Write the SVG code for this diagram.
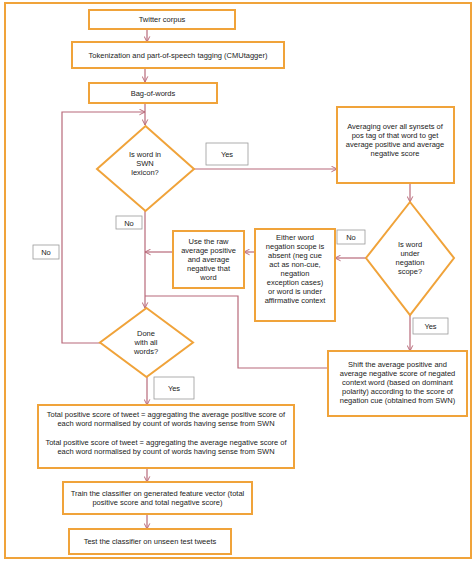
<svg xmlns="http://www.w3.org/2000/svg" width="474" height="579" viewBox="0 0 474 579">
<style>
.box{fill:#fff;stroke:#F0A33A;stroke-width:2}
.lbl{fill:#fff;stroke:#9a9a9a;stroke-width:0.8}
.c{fill:none;stroke:#B8697A;stroke-width:1.2}
text{font-family:"Liberation Sans",Arial,sans-serif;font-size:7.5px;fill:#222;text-anchor:middle}
</style>
<defs>
<marker id="a" viewBox="0 0 10 10" refX="9" refY="5" markerWidth="7" markerHeight="7" orient="auto" markerUnits="userSpaceOnUse">
<path d="M1,1 L9,5 L1,9" fill="none" stroke="#B8697A" stroke-width="1.4"/>
</marker>
</defs>
<rect x="0" y="0" width="474" height="579" fill="#fff"/>
<rect x="5" y="3" width="466" height="555" fill="none" stroke="#F0A33A" stroke-width="2"/>
<g id="connectors">
<path class="c" d="M147,29 V42" marker-end="url(#a)"/>
<path class="c" d="M145,68 V82" marker-end="url(#a)"/>
<path class="c" d="M145,103 V125" marker-end="url(#a)"/>
<path class="c" d="M100,343 H62 V112 H145" marker-end="url(#a)"/>
<path class="c" d="M194,169 H337" marker-end="url(#a)"/>
<path class="c" d="M410,183 V202" marker-end="url(#a)"/>
<path class="c" d="M366,258 H335" marker-end="url(#a)"/>
<path class="c" d="M255,252 H244" marker-end="url(#a)"/>
<path class="c" d="M173,252 H145" marker-end="url(#a)"/>
<path class="c" d="M145,211 V308" marker-end="url(#a)"/>
<path class="c" d="M328,368 H238 V296 H145"/>
<path class="c" d="M410,315 V351" marker-end="url(#a)"/>
<path class="c" d="M147,377 V405" marker-end="url(#a)"/>
<path class="c" d="M147,468 V482" marker-end="url(#a)"/>
<path class="c" d="M147,514 V529" marker-end="url(#a)"/>
</g>
<g id="lbl-yes1"><rect class="lbl" x="206" y="143" width="42" height="22"/><text x="227" y="157">Yes</text></g>
<g id="lbl-no1"><rect class="lbl" x="116" y="216" width="26" height="13"/><text x="129" y="225.5">No</text></g>
<g id="lbl-no2"><rect class="lbl" x="33" y="245" width="26" height="14"/><text x="46" y="255">No</text></g>
<g id="lbl-no3"><rect class="lbl" x="337" y="230" width="28" height="14"/><text x="351" y="240">No</text></g>
<g id="lbl-yes2"><rect class="lbl" x="413" y="318" width="35" height="16"/><text x="430.5" y="329">Yes</text></g>
<g id="lbl-yes3"><rect class="lbl" x="154" y="377" width="40" height="22"/><text x="174" y="391">Yes</text></g>
<g id="n1"><rect class="box" x="89" y="10" width="146" height="19"/><text x="162" y="22">Twitter corpus</text></g>
<g id="n2"><rect class="box" x="72" y="42" width="212" height="26"/><text x="178" y="57.5">Tokenization and part-of-speech tagging (CMUtagger)</text></g>
<g id="n3"><rect class="box" x="89" y="83" width="128" height="20"/><text x="153" y="95.5">Bag-of-words</text></g>
<g id="d1"><polygon class="box" points="145.5,126 194,169 145.5,211 97,169"/>
<text x="145" y="157">Is word in</text><text x="145" y="166">SWN</text><text x="145" y="175">lexicon?</text></g>
<g id="n4"><rect class="box" x="337" y="107" width="117" height="76"/>
<text x="395" y="129">Averaging over all synsets of</text><text x="395" y="138">pos tag of that word to get</text><text x="395" y="147">average positive and average</text><text x="395" y="156">negative score</text></g>
<g id="d2"><polygon class="box" points="410,202 454,258 410,315 366,258"/>
<text x="410" y="247">Is word</text><text x="410" y="256">under</text><text x="410" y="265">negation</text><text x="410" y="274">scope?</text></g>
<g id="n5"><rect class="box" x="255" y="229" width="80" height="92"/>
<text x="295" y="240">Either word</text><text x="295" y="249">negation scope is</text><text x="295" y="258">absent (neg cue</text><text x="295" y="267">act as non-cue,</text><text x="295" y="276">negation</text><text x="295" y="285">exception cases)</text><text x="295" y="294">or word is under</text><text x="295" y="303">affirmative context</text></g>
<g id="n6"><rect class="box" x="173" y="231" width="71" height="57"/>
<text x="208.5" y="244">Use the raw</text><text x="208.5" y="253">average positive</text><text x="208.5" y="262">and average</text><text x="208.5" y="271">negative that</text><text x="208.5" y="280">word</text></g>
<g id="d3"><polygon class="box" points="146.5,308 193,342.5 146.5,377 100,342.5"/>
<text x="146" y="336">Done</text><text x="146" y="345">with all</text><text x="146" y="354">words?</text></g>
<g id="n7"><rect class="box" x="328" y="351" width="139" height="65"/>
<text x="397.5" y="367">Shift the average positive and</text><text x="397.5" y="376">average negative score of negated</text><text x="397.5" y="385">context word (based on dominant</text><text x="397.5" y="394">polarity) according to the score of</text><text x="397.5" y="403">negation cue (obtained from SWN)</text></g>
<g id="n8"><rect class="box" x="38" y="405" width="256" height="63"/>
<text x="166" y="416.5">Total positive score of tweet = aggregating the average positive score of</text><text x="166" y="425.5">each word normalised by count of words having sense from SWN</text>
<text x="166" y="444.5">Total positive score of tweet = aggregating the average negative score of</text><text x="166" y="453.5">each word normalised by count of words having sense from SWN</text></g>
<g id="n9"><rect class="box" x="63" y="482" width="189" height="32"/>
<text x="157.5" y="495.5">Train the classifier on generated feature vector (total</text><text x="157.5" y="504.5">positive score and total negative score)</text></g>
<g id="n10"><rect class="box" x="69" y="529" width="162" height="25"/><text x="150" y="544">Test the classifier on unseen test tweets</text></g>
</svg>
